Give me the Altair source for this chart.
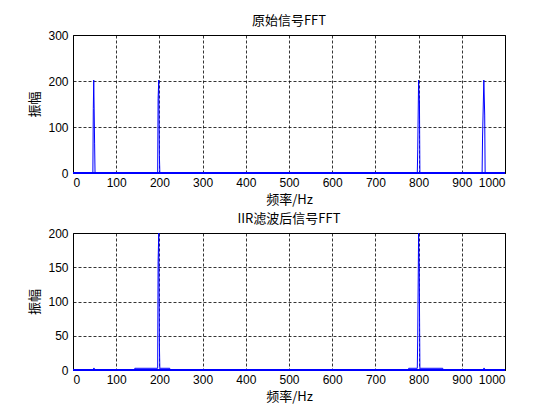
import altair as alt
import pandas as pd

# ---- data ----
# Original signal FFT: spike points (Hz, amplitude)
orig_f = [0, 46, 47, 48, 50, 51, 196, 197, 198.5, 200, 201,
          797, 798, 800, 802, 803, 947, 948, 951, 953, 954, 1000]
orig_a = [0, 0, 140, 202, 65, 0, 0, 162, 202, 38, 0,
          0, 52, 202, 150, 0, 0, 76, 202, 126, 0, 0]

# IIR filtered signal FFT
filt_f = [0, 47, 48.5, 50, 143, 143, 196, 197, 198.5, 200, 201, 224, 224,
          777, 777, 797, 798, 800, 801.5, 803, 856, 856, 950, 951.5, 953, 1000]
filt_a = [0.5, 0.5, 3, 0.5, 0.5, 2.5, 2.5, 158, 200, 37, 2.5, 2.5, 0.5,
          0.5, 2.5, 2.5, 50, 200, 147, 2.5, 2.5, 0.5, 0.5, 3, 0.5, 0.5]

# noise floor (drawn thick)
base_f = [0, 1000]
base_a = [0, 0]

x_ticks = [0, 100, 200, 300, 400, 500, 600, 700, 800, 900, 1000]
y_ticks_top = [0, 100, 200, 300]
y_ticks_bot = [0, 50, 100, 150, 200]

titles = ["原始信号FFT", "IIR滤波后信号FFT"]
x_title = "频率/Hz"
y_title = "振幅"

BLUE = "#0000ff"


def panel(fs, amps, title, ymax, yticks, h):
    df = pd.DataFrame({"f": fs, "a": amps, "i": list(range(len(fs)))})
    dfb = pd.DataFrame({"f": base_f, "a": base_a})
    x = alt.X("f:Q", scale=alt.Scale(domain=[0, 1000], nice=False),
              axis=alt.Axis(values=x_ticks, title=x_title, format="d"))
    y = alt.Y("a:Q", scale=alt.Scale(domain=[0, ymax], nice=False),
              axis=alt.Axis(values=yticks, title=y_title, format="d"))
    base = alt.Chart(dfb).mark_line(color=BLUE, strokeWidth=2).encode(x=x, y=y)
    spikes = alt.Chart(df).mark_line(color=BLUE, strokeWidth=1).encode(
        x=x, y=y, order="i:Q")
    return alt.layer(base, spikes).properties(
        width=432, height=h,
        title=alt.TitleParams(title, font="Noto Sans CJK SC", fontSize=13,
                              fontWeight="normal", color="black", offset=1),
    )


top = panel(orig_f, orig_a, titles[0], 300, y_ticks_top, 138)
bot = panel(filt_f, filt_a, titles[1], 200, y_ticks_bot, 137)

chart = alt.vconcat(top, bot, spacing=60, bounds="flush").properties(
    padding={"left": 20, "top": 6, "right": 5, "bottom": 5},
    background="white",
).configure_view(
    stroke="black", strokeWidth=1
).configure_axis(
    grid=True, gridColor="black", gridDash=[3, 2], gridWidth=0.8, gridOpacity=1,
    domain=False, ticks=False, tickSize=0,
    labelFont="Liberation Sans", labelFontSize=12, labelColor="black",
    titleFont="Noto Sans CJK SC", titleFontSize=13, titleFontWeight="normal",
    titleColor="black",
).configure_axisX(
    labelPadding=4, titlePadding=5,
).configure_axisY(
    labelPadding=5, titlePadding=6,
)

chart.save("out.html", embed_options={"renderer": "svg", "actions": False})
